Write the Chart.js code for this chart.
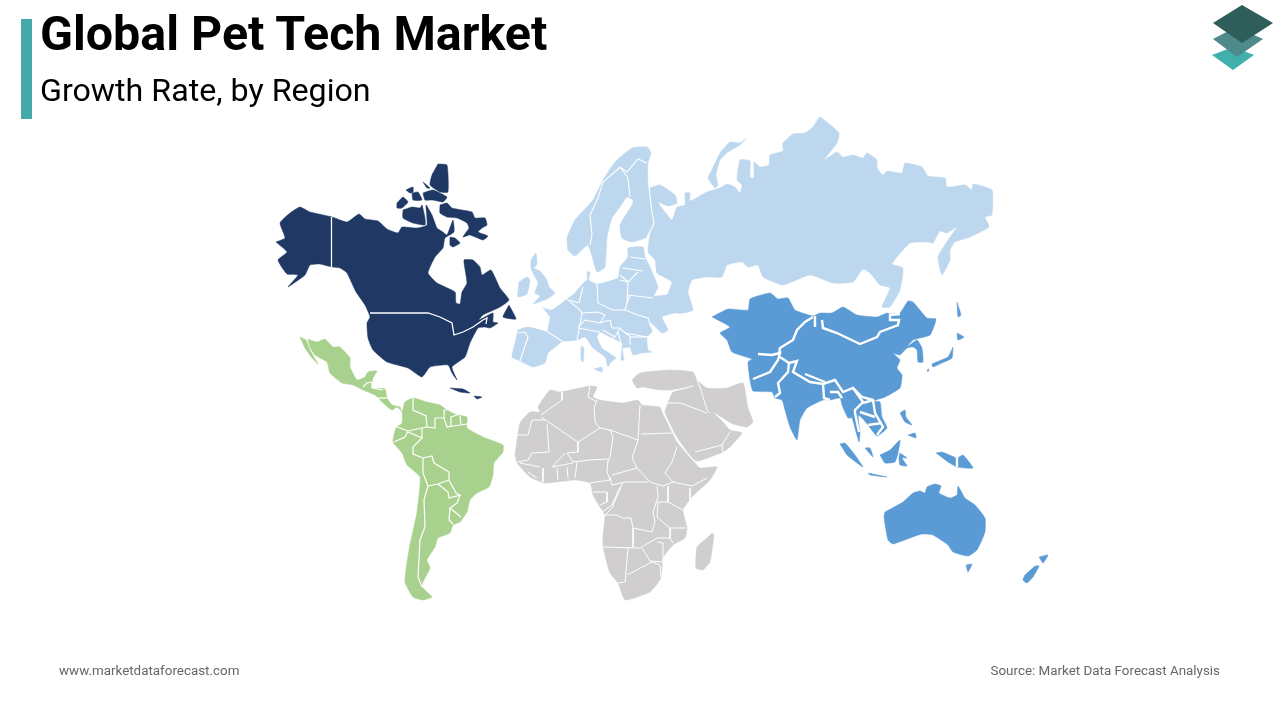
<!DOCTYPE html>
<html>
<head>
<meta charset="utf-8">
<title>Global Pet Tech Market</title>
<script src="https://cdn.jsdelivr.net/npm/chart.js@4/dist/chart.umd.min.js"></script>
<style>
    html, body { margin: 0; padding: 0; background: #fff; }
    #page { position: relative; width: 1280px; height: 720px; overflow: hidden; font-family: Roboto, sans-serif; }
    #mapChart { position: absolute; left: 0; top: 0; }
    .bar { position: absolute; left: 21px; top: 19px; width: 11px; height: 100px; background: #44a9a8; }
    .title { position: absolute; left: 40px; top: 7px; font-size: 48.4px; font-weight: 700; line-height: 54px; color: #000; white-space: nowrap; }
    .subtitle { position: absolute; left: 40px; top: 70px; font-size: 32.2px; line-height: 40px; color: #000; white-space: nowrap; }
    .foot { position: absolute; top: 662px; font-size: 13.4px; line-height: 17px; color: #666; white-space: nowrap; }
    .logo { position: absolute; left: 1205px; top: 0; }
</style>
</head>
<body>
<div id="page">
    <canvas id="mapChart" width="1280" height="720"></canvas>
    <div class="bar"></div>
    <div class="title">Global Pet Tech Market</div>
    <div class="subtitle">Growth Rate, by Region</div>
    <div class="foot" style="left:59px">www.marketdataforecast.com</div>
    <div class="foot" style="right:60px">Source: Market Data Forecast Analysis</div>
    <svg class="logo" width="75" height="76">
        <polygon points="7,55 28,47 49,55 28,70" fill="#3fb0ac"/>
        <polygon points="8,39 31,27 58,39 32,57" fill="#4f8a8b"/>
        <polygon points="8,23 37,5 68,23 37,43" fill="#2f5d5a"/>
    </svg>
</div>
<script>
// region colours
const northAmericaColor = '#1f3864';
const latinAmericaColor = '#a9d18e';
const europeColor = '#bdd7ee';
const asiaColor = '#5b9bd5';
const africaColor = '#d0cece';

// outlines, as [x, y] on the map grid
const northAmericaMainland = [[276,242],[285,238],[280,223],[290,213],[300,207],[310,212],[332,217],[347,222],[359,214],[365,219],[378,221],[387,229],[398,233],[402,227],[417,228],[427,225],[426,205],[432,215],[437,228],[443,232],[447,235],[453,220],[454,232],[445,238],[443,248],[435,257],[428,273],[437,283],[455,292],[456,303],[460,304],[462,292],[467,283],[464,260],[473,260],[480,267],[482,275],[491,270],[500,288],[509,300],[500,307],[483,315],[479,320],[493,313],[493,322],[498,323],[490,328],[485,327],[478,328],[470,343],[465,357],[452,367],[457,380],[452,373],[448,365],[430,367],[422,377],[408,368],[387,362],[373,350],[368,338],[367,323],[370,317],[365,305],[356,292],[347,273],[340,268],[332,267],[320,264],[310,265],[305,275],[288,287],[298,275],[287,274],[278,260],[287,252]];
const newfoundland = [[509,305],[516,319],[503,317]];
const baffinIsland = [[440,205],[447,203],[452,208],[462,210],[472,212],[475,218],[485,218],[487,225],[482,228],[478,232],[488,236],[483,240],[470,235],[463,237],[469,228],[467,223],[457,218],[447,217],[440,213]];
const victoriaIsland = [[403,210],[412,207],[420,208],[422,205],[425,218],[425,225],[413,223],[403,218]];
const banksIsland = [[397,203],[403,197],[408,202],[402,208],[397,208]];
const ellesmereIsland = [[438,164],[447,165],[448,192],[440,192],[430,185],[432,175]];
const parryIslandA = [[406,190],[413,187],[413,192],[410,193]];
const parryIslandB = [[412,193],[418,192],[422,200],[413,200]];
const parryIslandC = [[423,182],[430,188],[427,188]];
const parryIslandD = [[423,193],[433,190],[447,197],[443,202],[433,200],[425,200]];
const southamptonIsland = [[450,237],[455,238],[460,243],[453,247],[450,245]];
const cuba = [[450,388],[463,389],[470,393],[460,392]];
const hispaniola = [[474,396],[482,397],[477,399]];

const bajaPeninsula = [[300,337],[306,340],[310,350],[318,364],[312,358],[305,348]];
const latinAmericaMainland = [[308,339],[317,342],[325,339],[333,347],[340,347],[350,358],[350,367],[357,380],[365,377],[368,372],[377,371],[373,378],[372,388],[385,389],[387,398],[392,405],[400,407],[402,412],[405,402],[413,398],[427,402],[440,405],[447,410],[457,415],[467,417],[467,428],[483,437],[503,445],[503,452],[494,463],[493,475],[489,487],[477,493],[470,500],[467,512],[460,522],[453,525],[450,533],[438,538],[435,547],[427,560],[430,568],[423,582],[422,587],[432,597],[423,600],[413,597],[405,582],[409,550],[417,512],[420,477],[407,465],[402,453],[393,442],[396,428],[402,423],[402,412],[397,407],[392,410],[383,403],[375,395],[363,390],[353,385],[342,383],[330,373],[327,362],[315,355],[310,347]];

const scandinavia = [[567,237],[575,220],[593,200],[603,180],[615,162],[632,148],[647,147],[651,153],[648,163],[648,183],[653,223],[647,237],[632,242],[622,238],[620,225],[632,205],[633,200],[627,197],[620,207],[612,218],[607,237],[605,267],[597,272],[588,245],[575,256],[568,250]];
const russia = [[653,225],[650,210],[650,195],[650,188],[660,185],[675,195],[677,203],[668,206],[658,202],[665,212],[672,220],[677,207],[685,205],[685,193],[690,193],[690,201],[707,192],[720,188],[727,184],[735,187],[740,193],[742,185],[737,180],[740,160],[750,161],[750,177],[754,178],[754,162],[760,167],[769,165],[770,155],[783,151],[783,143],[793,134],[805,133],[813,127],[820,117],[828,123],[839,133],[837,143],[824,160],[837,152],[843,157],[853,155],[863,158],[867,153],[877,160],[877,168],[883,175],[887,171],[902,173],[905,163],[922,167],[928,176],[945,178],[947,187],[965,185],[972,190],[973,184],[992,190],[992,215],[985,217],[989,227],[970,237],[955,242],[950,250],[950,260],[942,275],[938,257],[948,240],[957,227],[947,233],[940,231],[933,243],[927,242],[910,243],[892,264],[903,268],[900,290],[890,307],[882,307],[890,288],[880,285],[870,273],[863,269],[853,282],[833,283],[810,275],[783,285],[763,277],[758,265],[748,267],[742,262],[727,265],[722,277],[707,277],[692,280],[688,292],[693,310],[683,313],[678,310],[667,297],[672,282],[657,273],[655,260],[648,252],[650,235]];
const novayaZemlya = [[747,138],[740,143],[730,142],[720,153],[712,170],[708,178],[715,188],[718,185],[716,175],[720,160],[728,152],[740,145]];
const continentalEurope = [[543,308],[552,310],[567,299],[575,293],[579,288],[587,280],[597,284],[618,278],[620,267],[628,257],[628,248],[643,247],[645,257],[649,265],[658,287],[654,296],[668,295],[675,303],[683,313],[675,313],[662,317],[668,330],[662,333],[650,322],[652,332],[647,337],[648,350],[652,352],[642,353],[633,355],[630,347],[622,348],[622,343],[612,338],[600,332],[597,337],[602,348],[616,358],[611,362],[608,367],[605,357],[593,348],[585,337],[577,340],[562,341],[548,332],[550,317]];
const iberia = [[518,330],[528,327],[547,332],[562,341],[548,353],[545,363],[533,367],[520,361],[512,357],[515,343]];
const denmark = [[587,272],[590,272],[588,282]];
const greatBritain = [[531,260],[536,253],[537,264],[534,268],[540,271],[547,280],[549,287],[555,293],[547,299],[533,304],[540,296],[535,293],[538,283],[533,273],[531,268]];
const ireland = [[519,282],[527,277],[530,280],[527,294],[518,297]];
const sardinia = [[581,346],[584,348],[583,362],[581,360]];
const sicily = [[594,369],[602,367],[602,372]];
const adriaticIsle = [[622,348],[624,360],[621,360]];

const asiaMainland = [[712,317],[728,309],[748,310],[750,299],[770,293],[778,299],[788,298],[795,310],[813,316],[820,313],[832,313],[843,307],[857,315],[877,317],[887,313],[890,314],[900,313],[908,301],[913,302],[927,318],[936,319],[930,335],[913,340],[907,347],[917,340],[922,348],[923,362],[918,362],[917,350],[913,347],[907,348],[900,355],[893,353],[900,360],[897,368],[902,375],[900,388],[885,397],[873,401],[880,402],[882,417],[887,428],[877,436],[868,425],[862,418],[858,415],[860,432],[859,442],[856,432],[852,418],[848,418],[842,405],[840,398],[830,400],[823,400],[807,408],[800,420],[797,440],[790,427],[785,410],[782,400],[775,398],[772,392],[753,391],[750,380],[748,362],[752,359],[732,352],[727,340],[720,333],[730,327]];
const honshu = [[953,347],[952,358],[942,363],[933,367],[932,364],[948,357]];
const hokkaido = [[957,333],[964,337],[958,340]];
const sakhalin = [[957,302],[961,315],[958,317]];
const kyushu = [[927,370],[929,369],[928,372]];
const luzon = [[900,413],[905,410],[906,417],[912,425],[905,422]];
const mindanao = [[908,435],[915,433],[916,438]];
const sumatra = [[840,444],[845,443],[855,455],[863,467],[857,463],[847,455]];
const borneo = [[880,455],[890,450],[900,440],[898,453],[895,462],[885,463]];
const sulawesi = [[900,453],[907,458],[902,458],[907,466],[900,465],[899,458]];
const java = [[868,473],[887,477],[870,475]];
const bangka = [[865,448],[870,448],[873,457]];
const newGuinea = [[936,453],[942,452],[957,458],[963,455],[973,468],[957,467],[948,462]];
const australia = [[885,512],[903,502],[913,493],[920,491],[925,493],[927,487],[935,484],[941,486],[939,493],[950,498],[957,495],[958,486],[965,498],[975,505],[985,518],[985,532],[977,550],[968,556],[953,552],[948,545],[933,535],[922,534],[910,538],[893,544],[888,540],[884,517]];
const tasmania = [[966,565],[972,564],[968,572]];
const newZealandNorth = [[1039,557],[1048,555],[1043,563]];
const newZealandSouth = [[1035,566],[1039,566],[1033,577],[1027,583],[1023,580],[1025,575]];

const africa = [[515,455],[520,423],[530,412],[540,412],[538,407],[550,390],[560,392],[590,386],[597,387],[593,397],[600,400],[623,403],[638,400],[642,405],[660,407],[662,412],[677,442],[695,463],[700,468],[717,467],[710,480],[692,497],[683,510],[687,528],[685,538],[673,545],[663,558],[661,578],[650,592],[625,600],[618,583],[610,573],[603,547],[603,535],[605,515],[600,507],[593,495],[590,483],[575,480],[545,483],[530,477],[517,463]];
const middleEast = [[632,380],[638,374],[645,372],[670,370],[693,372],[697,380],[707,388],[727,388],[743,383],[748,408],[753,422],[747,427],[733,424],[713,412],[723,422],[730,430],[742,433],[730,447],[723,452],[696,461],[677,437],[665,412],[668,403],[673,392],[690,387],[670,390],[660,390],[643,387],[637,388]];
const madagascar = [[712,533],[714,535],[710,562],[703,570],[696,568],[697,547],[707,538]];

// country borders
const northAmericaBorders = [
    [[331.5,217],[331.5,267]],
    [[370,313],[428,313],[440,317],[452,323],[454,335],[463,332],[473,327],[483,320],[487,318],[486,324]]
];
const latinAmericaBorders = [
    [[363,387],[367,383],[372,382],[372,388]], [[372,388],[383,390]], [[377,398],[387,398]],
    [[413,398],[413,410],[426,416],[427,427]], [[427,427],[435,428],[435,418],[444,418],[444,410],[447,410]],
    [[444,418],[447,427],[451,426],[451,417],[457,415]], [[460,416],[461,425]], [[447,427],[467,424]],
    [[397,427],[408,431],[427,427]], [[408,431],[405,437],[394,442]], [[408,432],[422,438],[422,428]],
    [[422,438],[413,447],[413,454],[423,458]], [[423,458],[432,456],[434,463],[449,472],[449,480]],
    [[423,458],[423,473],[428,486]], [[428,486],[424,500],[425,527],[420,540],[418,577],[422,587]],
    [[428,486],[438,484],[449,480]], [[438,484],[448,492],[449,498],[460,495],[456,493],[449,480]],
    [[460,495],[457,503],[450,508],[461,517]], [[450,508],[449,520],[453,524]]
];
const europeBorders = [
    [[590,245],[592,235],[590,215],[598,198],[603,182],[617,170],[620,167]], [[620,167],[628,178],[630,197]],
    [[620,167],[627,172],[638,159],[647,163]], [[649,165],[649,185],[651,205],[654,224],[647,237]],
    [[520,361],[528,337],[525,332],[518,333]], [[548,332],[562,341]],
    [[567,299],[580,310],[582,313],[577,340]], [[570,300],[578,303]], [[583,287],[579,303]],
    [[597,284],[598,303],[613,310]], [[582,313],[598,312],[605,315],[600,323],[585,320],[578,327]],
    [[613,310],[625,310],[627,303],[628,282],[620,280]], [[627,303],[630,295]], [[628,295],[653,298]],
    [[622,268],[643,271]], [[630,257],[645,259]], [[620,275],[628,282],[638,272]],
    [[625,310],[638,315],[648,318],[651,327]], [[625,333],[647,337]],
    [[610,320],[612,328],[620,328],[625,333],[630,336],[630,345]], [[600,323],[610,320]],
    [[578,328],[600,332]], [[603,330],[615,337],[620,328]], [[618,332],[622,347]], [[630,337],[648,337]], [[612,337],[620,347]]
];
const asiaBorders = [
    [[813,317],[805,322],[797,330],[793,340],[780,348],[779,355]],
    [[815,316],[815,327]],
    [[822,320],[823,328],[837,333],[860,344],[877,337],[880,332],[898,325],[899,320],[890,320],[890,315],[900,314]],
    [[758,354],[772,355],[780,353],[778,360],[770,372],[753,379]],
    [[780,357],[789,363],[788,372],[778,383],[780,393],[775,397]],
    [[789,363],[797,361],[793,372],[810,382],[823,384],[835,380],[843,392],[853,388],[862,397],[873,400]],
    [[805,374],[825,382]],
    [[823,384],[824,398],[830,400]], [[830,392],[838,392],[842,398]],
    [[853,388],[863,402],[855,410],[855,413],[859,432]],
    [[863,403],[873,400],[875,413],[883,427],[877,435]],
    [[860,412],[875,417]], [[868,425],[882,423]],
    [[957,455],[957,467]]
];
const africaBorders = [
    [[590,386],[588,397],[597,402]], [[562,392],[562,400],[541,415]], [[541,417],[578,442],[600,428]],
    [[597,400],[594,408],[595,422],[600,428],[610,430],[638,440],[640,405]], [[641,434],[672,433]],
    [[610,430],[613,437],[610,457],[608,462]], [[578,442],[578,452],[567,453],[573,462],[590,460],[608,459]],
    [[547,424],[549,452],[532,453],[528,460],[517,462]], [[517,435],[528,435],[532,420],[545,420]],
    [[552,467],[565,453]], [[552,467],[573,463]], [[543,468],[543,482]], [[557,468],[558,480]],
    [[567,467],[568,478]], [[577,462],[575,478]], [[520,463],[540,467]], [[528,472],[537,478]],
    [[638,440],[632,458],[637,468],[612,475]], [[677,447],[672,462],[665,473],[673,482],[692,486],[707,478]],
    [[637,468],[650,482],[663,486],[673,482]], [[610,477],[612,485],[625,482],[648,482]],
    [[608,460],[607,472],[610,480],[590,483]], [[593,492],[607,492],[607,502],[600,505]], [[620,487],[612,505],[602,512]],
    [[623,482],[612,508],[605,515],[617,515],[622,518],[631,518],[633,528],[652,532],[655,522],[653,512],[658,497],[657,486]],
    [[668,486],[668,502],[683,510]], [[668,502],[658,502],[657,517],[670,528],[686,528]], [[690,488],[690,500]],
    [[603,547],[640,548]], [[633,528],[633,547]], [[640,548],[657,538],[670,538],[673,543]], [[670,528],[670,538]],
    [[642,548],[650,561],[663,562],[663,543],[657,542]], [[628,548],[625,582],[618,583]],
    [[627,575],[652,562],[660,565],[661,577]],
    [[670,392],[693,386]], [[697,380],[700,387],[707,410],[710,413]], [[680,403],[707,413]], [[668,403],[680,403]],
    [[695,452],[722,445],[730,432]], [[722,445],[723,452]]
];

const northAmericaShapes = [northAmericaMainland, newfoundland, baffinIsland, victoriaIsland, banksIsland, ellesmereIsland, parryIslandA, parryIslandB, parryIslandC, parryIslandD, southamptonIsland, cuba, hispaniola];
const latinAmericaShapes = [bajaPeninsula, latinAmericaMainland];
const europeShapes = [scandinavia, russia, novayaZemlya, continentalEurope, iberia, denmark, greatBritain, ireland, sardinia, sicily, adriaticIsle];
const asiaShapes = [asiaMainland, honshu, hokkaido, sakhalin, kyushu, luzon, mindanao, sumatra, borneo, sulawesi, java, bangka, newGuinea, australia, tasmania, newZealandNorth, newZealandSouth];
const africaShapes = [africa, middleEast, madagascar];

function toPoints(list) {
    return list.map(function(p) { return { x: p[0], y: p[1] }; });
}

function shapeDatasets(shapes, color) {
    return shapes.map(function(shape) {
        return {
            data: toPoints(shape.concat([shape[0]])),
            showLine: true,
            fill: 'shape',
            tension: 0.15,
            backgroundColor: color,
            borderColor: color,
            borderWidth: 0.5,
            pointRadius: 0,
            order: 2
        };
    });
}

function borderDatasets(lines, width) {
    return lines.map(function(line) {
        return {
            data: toPoints(line),
            showLine: true,
            fill: false,
            borderColor: '#ffffff',
            borderWidth: width,
            pointRadius: 0,
            order: 1
        };
    });
}

const datasets = [].concat(
    shapeDatasets(northAmericaShapes, northAmericaColor),
    shapeDatasets(latinAmericaShapes, latinAmericaColor),
    shapeDatasets(europeShapes, europeColor),
    shapeDatasets(asiaShapes, asiaColor),
    shapeDatasets(africaShapes, africaColor),
    borderDatasets(northAmericaBorders, 1.3),
    borderDatasets(latinAmericaBorders, 1.2),
    borderDatasets(europeBorders, 1.1),
    borderDatasets(asiaBorders, 2.4),
    borderDatasets(africaBorders, 1)
);

new Chart(document.getElementById('mapChart').getContext('2d'), {
    type: 'scatter',
    data: { datasets: datasets },
    options: {
        responsive: false,
        animation: false,
        events: [],
        layout: { padding: 0 },
        plugins: { legend: { display: false }, tooltip: { enabled: false } },
        scales: {
            x: { type: 'linear', min: 0, max: 1280, display: false },
            y: { type: 'linear', min: 0, max: 720, reverse: true, display: false }
        }
    }
});
</script>
</body>
</html>
